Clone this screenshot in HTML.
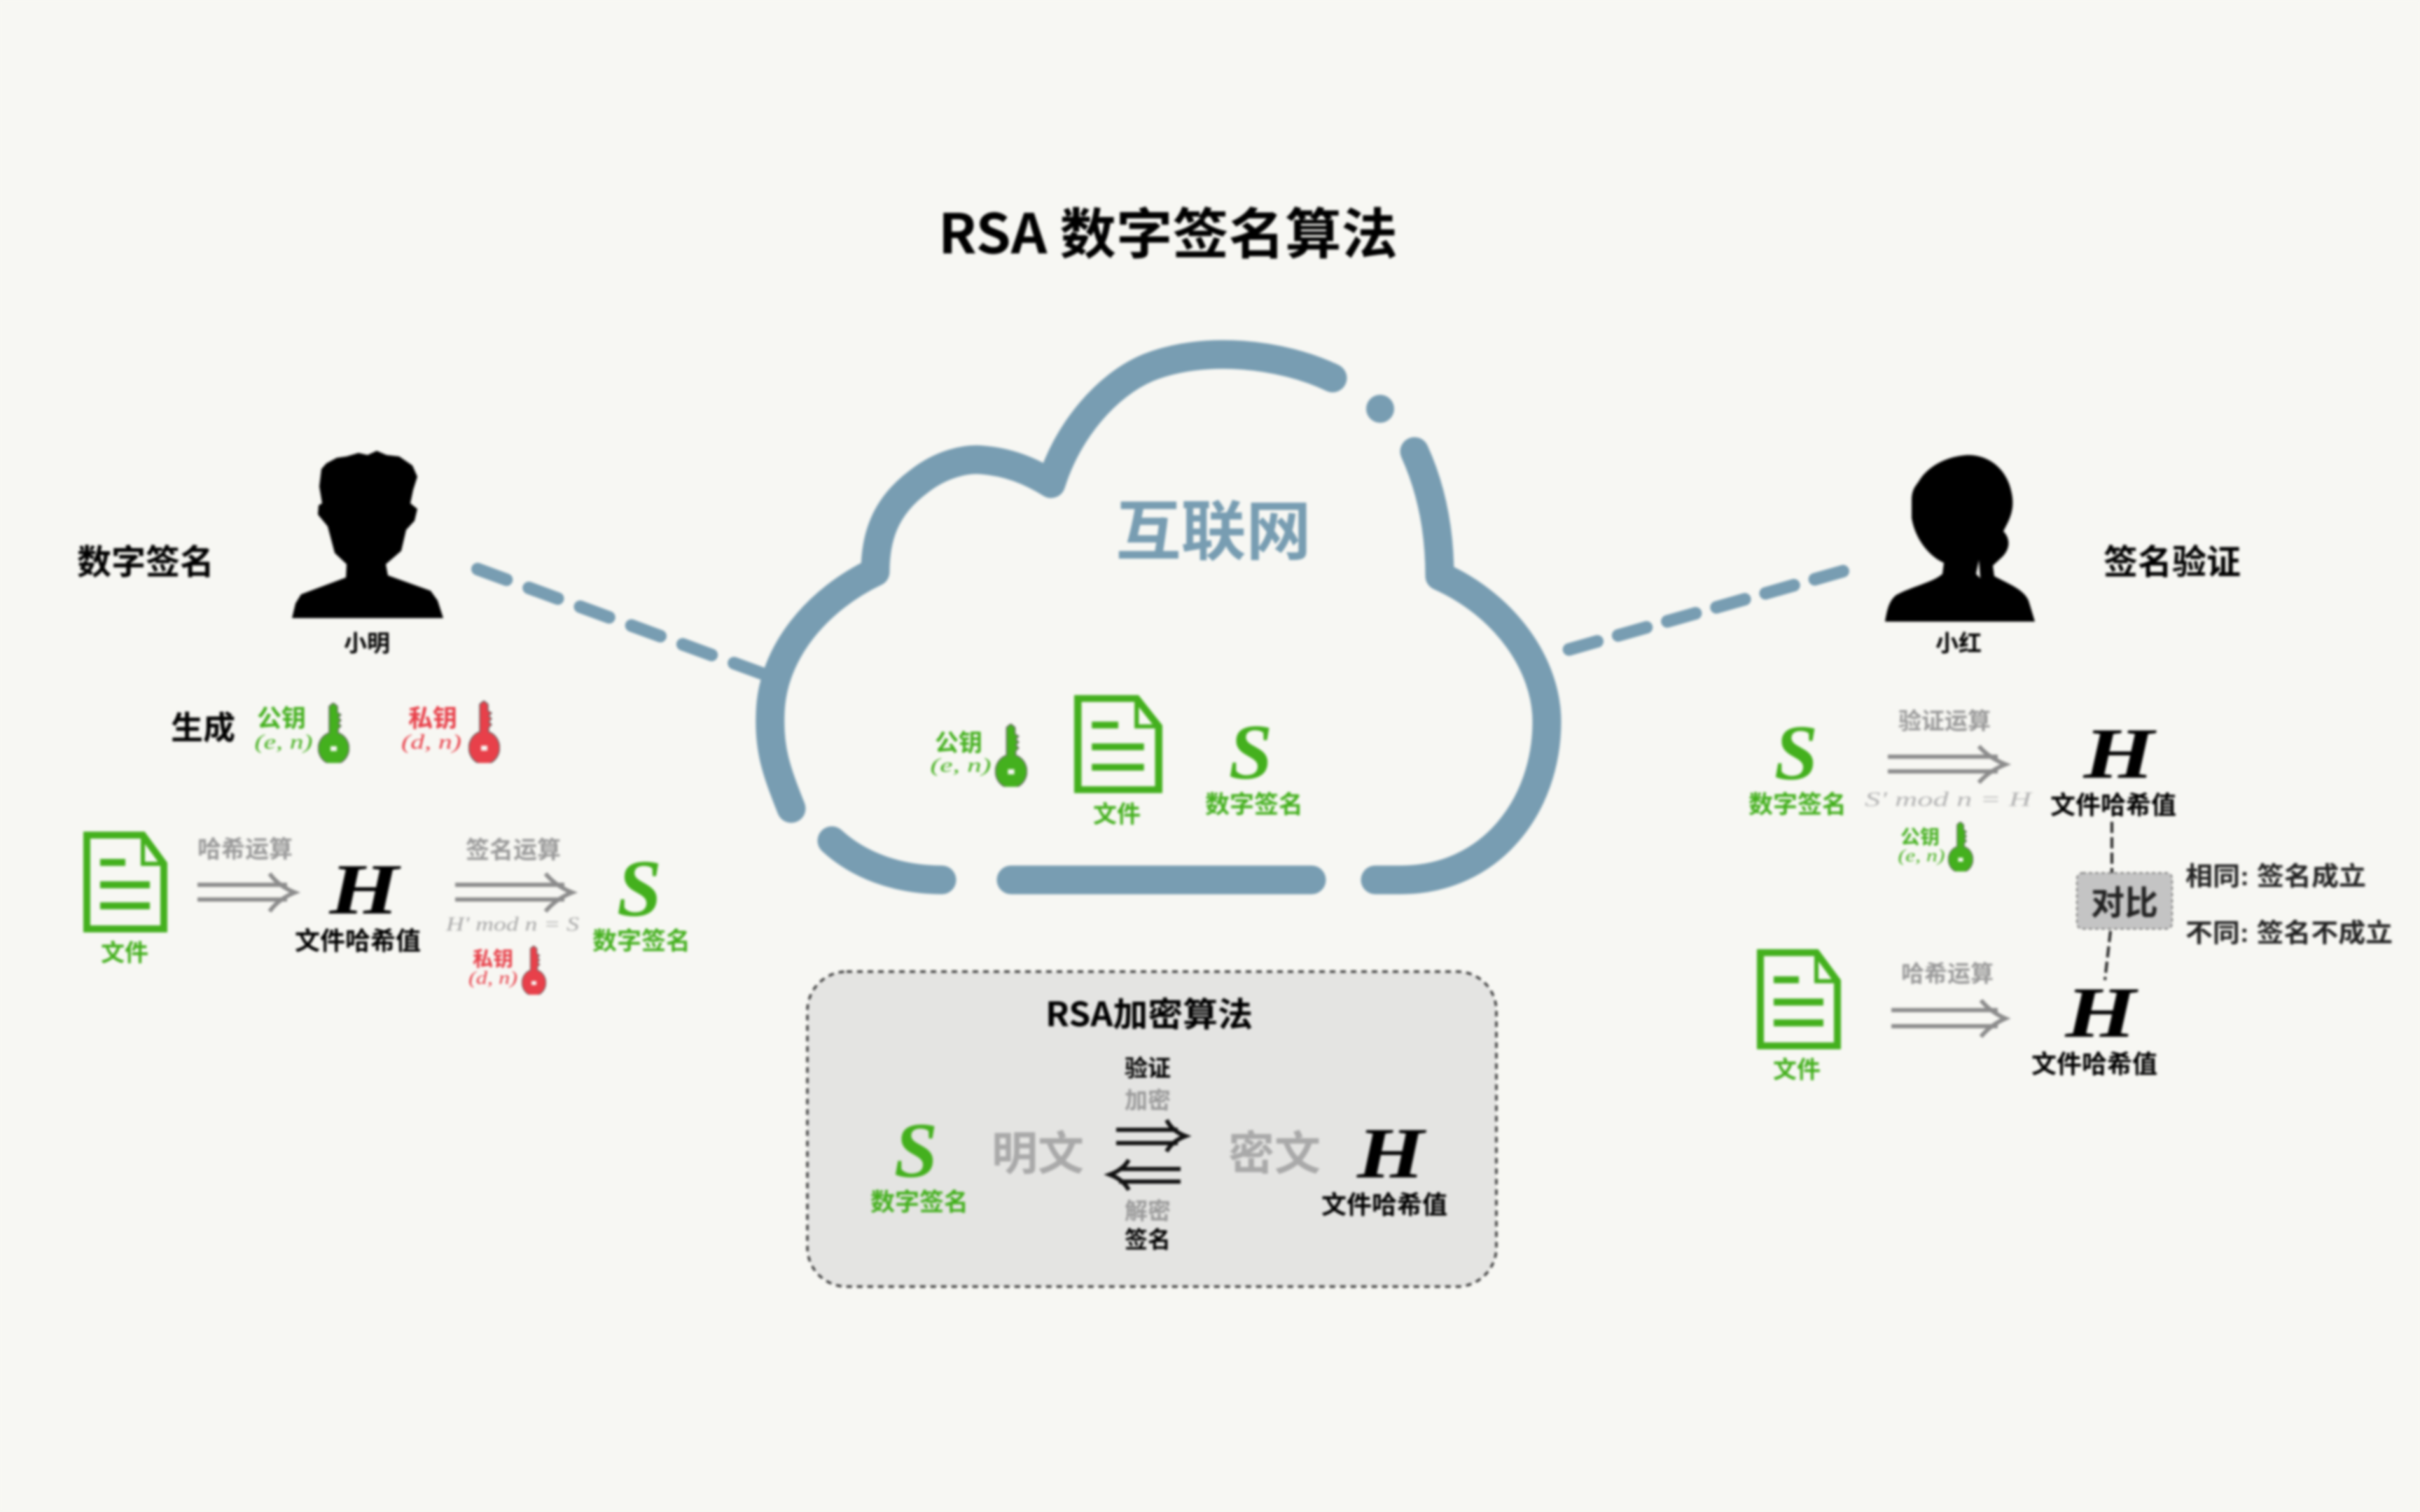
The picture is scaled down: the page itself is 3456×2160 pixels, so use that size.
<!DOCTYPE html>
<html lang="zh">
<head>
<meta charset="utf-8">
<title>RSA 数字签名算法</title>
<style>
html,body{margin:0;padding:0;background:#f7f7f3;width:3456px;height:2160px;overflow:hidden}
svg{display:block;filter:blur(1.8px)}
text{font-family:"Liberation Sans","Noto Sans CJK SC",sans-serif;text-anchor:middle;dominant-baseline:central;font-weight:700}
.nt{font-family:"Noto Sans CJK SC",sans-serif}
.g{fill:#44b01e}.r{fill:#e8404a}.k{fill:#000}.y{fill:#9a9a9a}
.m{font-family:"Liberation Serif",serif;font-style:italic;dominant-baseline:auto}
.n{font-family:"Liberation Serif",serif;font-style:italic;font-weight:400}
.cl{fill:none;stroke:#789db2;stroke-width:41;stroke-linecap:round;stroke-linejoin:round}
.ar{fill:none;stroke:#8c8c8c;stroke-width:6}
.ab{fill:none;stroke:#111;stroke-width:6}
</style>
</head>
<body>
<svg xmlns="http://www.w3.org/2000/svg" width="3456" height="2160" viewBox="0 0 3456 2160">
<defs>
<symbol id="key" viewBox="0 0 45 86" preserveAspectRatio="none">
<path d="M22 0 L28 5 L28 14 L33 17 L29 21 L33 25 L29 29 L33 33 L29 37 L29 43 A22 23 0 1 1 16 43 L16 5 Z" fill="currentColor" stroke="#666" stroke-width="1.5"/>
<rect x="18" y="62" width="9" height="7" fill="#f7f7f3"/>
</symbol>
<symbol id="doc" viewBox="0 0 120 144" preserveAspectRatio="none">
<path d="M5 5 H85 L115 46 V139 H5 Z" fill="none" stroke="#44b01e" stroke-width="10"/>
<path d="M85 8 V46 H113" fill="none" stroke="#44b01e" stroke-width="6"/>
<path d="M24 44 H60 M24 76 H95 M24 106 H95" stroke="#44b01e" stroke-width="10" fill="none"/>
</symbol>
</defs>

<rect width="3456" height="2160" fill="#f7f7f3"/>

<!-- Title -->
<text x="1668" y="329" font-size="78" class="k nt" textLength="656" lengthAdjust="spacingAndGlyphs">RSA 数字签名算法</text>

<!-- Cloud -->
<path class="cl" d="M1130 1155 C1108 1100 1098 1070 1100 1020 C1102 930 1170 855 1250 817 C1250 770 1262 725 1312 688 C1345 662 1380 655 1402 657 C1440 660 1470 672 1501 691 C1525 615 1580 550 1640 525 C1720 493 1830 505 1903 540"/>
<circle cx="1971" cy="584" r="20" fill="#789db2"/>
<path class="cl" d="M2020 645 C2045 700 2056 760 2056 823 C2150 865 2209 950 2209 1031 C2209 1150 2130 1257 2000 1257 L1964 1257"/>
<path class="cl" d="M1188 1201 C1225 1235 1280 1257 1345 1257"/>
<path class="cl" d="M1444 1257 H1873"/>

<!-- Dashed links -->
<line x1="682" y1="813" x2="1088" y2="962" stroke="#789db2" stroke-width="18" stroke-linecap="round" stroke-dasharray="44 34"/>
<line x1="2632" y1="816" x2="2226" y2="932" stroke="#789db2" stroke-width="18" stroke-linecap="round" stroke-dasharray="42 31"/>

<text x="1733" y="760" font-size="93" fill="#789db2">互联网</text>

<!-- Cloud contents -->
<text x="1369" y="1062" font-size="34" class="g">公钥</text>
<text x="1372" y="1094" font-size="28" class="g n" textLength="87" lengthAdjust="spacingAndGlyphs">(e, n)</text>
<use href="#key" x="1421" y="1034" width="46" height="90" color="#44b01e"/>
<use href="#doc" x="1534" y="993" width="126" height="140"/>
<text x="1595" y="1164" font-size="34" class="g">文件</text>
<text x="1786" y="1112" font-size="112" class="g m">S</text>
<text x="1791" y="1150" font-size="35" class="g">数字签名</text>

<!-- Left: person -->
<path class="k" d="M459 670 L466 662 L481 654 L495 652 L512 647 L525 650 L538 644 L552 650 L570 652 L589 665 L596 681 L590 700 L586 719 L596 727 L592 744 L580 757 L573 787 L551 806 L554 822 L615 844 L625 858 L633 883 L417 883 L422 862 L430 849 L494 825 L495 806 L478 790 L468 752 L454 735 L455 722 L460 719 L456 695 Z"/>
<text x="208" y="804" font-size="49" class="k">数字签名</text>
<text x="524" y="919" font-size="33" class="k">小明</text>
<text x="290" y="1040" font-size="46" class="k">生成</text>
<text x="402" y="1027" font-size="35" class="g">公钥</text>
<text x="405" y="1060" font-size="30" class="g n" textLength="83" lengthAdjust="spacingAndGlyphs">(e, n)</text>
<use href="#key" x="454" y="1004" width="45" height="86" color="#44b01e"/>
<text x="618" y="1027" font-size="35" class="r">私钥</text>
<text x="616" y="1060" font-size="30" class="r n" textLength="86" lengthAdjust="spacingAndGlyphs">(d, n)</text>
<use href="#key" x="669" y="1001" width="45" height="89" color="#e8404a"/>

<!-- Left: flow -->
<use href="#doc" x="119" y="1188" width="120" height="144"/>
<text x="178" y="1362" font-size="34" class="g">文件</text>
<text x="350" y="1214" font-size="34" class="y">哈希运算</text>
<path class="ar" d="M282 1264 H410 M282 1285 H410 M385 1248 Q398 1266 421 1275 Q398 1284 385 1302"/>
<text x="520" y="1305" font-size="103" class="k m" textLength="99" lengthAdjust="spacingAndGlyphs">H</text>
<text x="511" y="1344" font-size="36" class="k">文件哈希值</text>
<text x="733" y="1215" font-size="34" class="y">签名运算</text>
<path class="ar" d="M650 1264 H806 M650 1285 H806 M779 1248 Q794 1266 817 1275 Q794 1284 779 1302"/>
<text x="732" y="1321" font-size="28" class="n" fill="#a8a8a8" textLength="190" lengthAdjust="spacingAndGlyphs">H' mod n = S</text>
<text x="704" y="1371" font-size="29" class="r">私钥</text>
<text x="704" y="1397" font-size="26" class="r n" textLength="70" lengthAdjust="spacingAndGlyphs">(d, n)</text>
<use href="#key" x="745" y="1351" width="35" height="70" color="#e8404a"/>
<text x="913" y="1308" font-size="115" class="g m">S</text>
<text x="916" y="1345" font-size="35" class="g">数字签名</text>

<!-- Right: person -->
<path class="k" d="M2730 715 C2730 700 2735 695 2740 688 C2750 670 2775 652 2810 650 C2845 650 2868 675 2873 705 C2878 730 2868 745 2861 759 C2870 768 2872 782 2860 795 L2846 808 L2848 823 C2870 835 2890 842 2897 858 L2906 888 L2692 888 C2695 870 2698 858 2708 850 C2730 838 2760 832 2774 820 L2776 804 C2755 795 2735 770 2730 740 Z"/>
<path d="M2826 800 L2822 820 L2828 826 Z" fill="#f7f7f3"/>
<text x="3102" y="804" font-size="49" class="k">签名验证</text>
<text x="2797" y="919" font-size="33" class="k">小红</text>

<!-- Right: flow -->
<text x="2565" y="1113" font-size="112" class="g m">S</text>
<text x="2567" y="1150" font-size="35" class="g">数字签名</text>
<text x="2777" y="1030" font-size="33" class="y">验证运算</text>
<path class="ar" d="M2696 1081 H2853 M2696 1102 H2853 M2826 1066 Q2841 1083 2864 1092 Q2841 1101 2826 1118"/>
<text x="2782" y="1142" font-size="30" class="n" fill="#b4b4b4" textLength="238" lengthAdjust="spacingAndGlyphs">S' mod n = H</text>
<text x="3026" y="1111" font-size="103" class="k m" textLength="101" lengthAdjust="spacingAndGlyphs">H</text>
<text x="3018" y="1150" font-size="36" class="k">文件哈希值</text>
<text x="2742" y="1196" font-size="28" class="g">公钥</text>
<text x="2744" y="1223" font-size="25" class="g n" textLength="67" lengthAdjust="spacingAndGlyphs">(e, n)</text>
<use href="#key" x="2782" y="1174" width="36" height="71" color="#44b01e"/>

<line x1="3016" y1="1174" x2="3016" y2="1247" stroke="#222" stroke-width="4" stroke-dasharray="16 6"/>
<line x1="3014" y1="1330" x2="3006" y2="1400" stroke="#222" stroke-width="4" stroke-dasharray="16 6"/>
<rect x="2966" y="1247" width="136" height="80" rx="8" fill="#c4c4c4" stroke="#777" stroke-width="2" stroke-dasharray="5 4"/>
<text x="3034" y="1291" font-size="48" fill="#222">对比</text>
<text x="3250" y="1252" font-size="37" fill="#222" textLength="258" lengthAdjust="spacingAndGlyphs">相同: 签名成立</text>
<text x="3269" y="1333" font-size="37" fill="#222" textLength="296" lengthAdjust="spacingAndGlyphs">不同: 签名不成立</text>

<use href="#doc" x="2509" y="1356" width="120" height="143"/>
<text x="2566" y="1529" font-size="34" class="g">文件</text>
<text x="2781" y="1391" font-size="33" class="y">哈希运算</text>
<path class="ar" d="M2701 1443 H2853 M2701 1466 H2853 M2829 1429 Q2843 1446 2864 1455 Q2843 1464 2829 1481"/>
<text x="3000" y="1481" font-size="103" class="k m" textLength="101" lengthAdjust="spacingAndGlyphs">H</text>
<text x="2991" y="1520" font-size="36" class="k">文件哈希值</text>

<!-- RSA box -->
<rect x="1153" y="1388" width="984" height="450" rx="56" fill="#e4e4e2" stroke="#3a3a3a" stroke-width="3.5" stroke-dasharray="8 7"/>
<text x="1641" y="1445" font-size="48" class="k nt" textLength="296" lengthAdjust="spacingAndGlyphs">RSA加密算法</text>
<text x="1639" y="1526" font-size="33" class="k">验证</text>
<text x="1639" y="1572" font-size="33" class="y">加密</text>
<text x="1639" y="1730" font-size="33" class="y">解密</text>
<text x="1639" y="1771" font-size="33" class="k">签名</text>
<path class="ab" d="M1594 1614 H1682 M1594 1633 H1682 M1666 1600 Q1674 1616 1693 1623 Q1674 1630 1666 1645"/>
<path class="ab" d="M1686 1670 H1598 M1686 1688 H1598 M1612 1657 Q1604 1671 1585 1678 Q1604 1685 1612 1700"/>
<text x="1308" y="1681" font-size="112" class="g m">S</text>
<text x="1313" y="1718" font-size="35" class="g">数字签名</text>
<text x="1482" y="1648" font-size="66" fill="#a9a9a9">明文</text>
<text x="1820" y="1648" font-size="66" fill="#a9a9a9">密文</text>
<text x="1986" y="1682" font-size="103" class="k m" textLength="96" lengthAdjust="spacingAndGlyphs">H</text>
<text x="1977" y="1721" font-size="36" class="k">文件哈希值</text>
</svg>
</body>
</html>
